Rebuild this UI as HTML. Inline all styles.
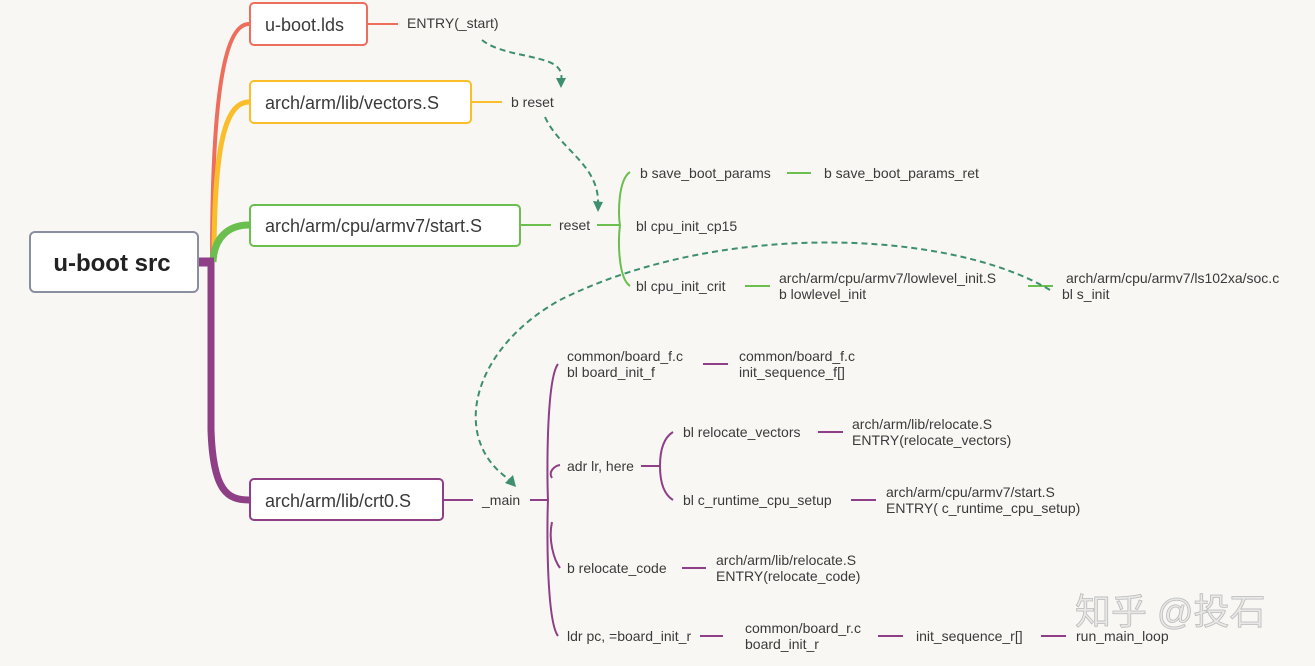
<!DOCTYPE html>
<html><head><meta charset="utf-8"><style>
html,body{margin:0;padding:0;background:#f8f7f4;}
svg{display:block;}
text{font-family:"Liberation Sans","Noto Sans CJK SC",sans-serif;fill:#3a3a3a;font-size:14px;}
.n{font-size:18px;}
</style></head><body>
<svg width="1315" height="666" viewBox="0 0 1315 666" xmlns="http://www.w3.org/2000/svg">
<rect width="1315" height="666" fill="#f8f7f4"/>
<!-- main branches -->
<path d="M212,262 C212,110 222,24 249,24" fill="none" stroke="#ee6e5e" stroke-width="4"/>
<path d="M214,262 C214,150 224,102 249,102" fill="none" stroke="#f9be2a" stroke-width="5"/>
<path d="M213,262 C214,238 228,225 249,225" fill="none" stroke="#6bbf4e" stroke-width="7"/>
<path d="M198,262 L214,262" stroke="#8e3f86" stroke-width="9"/>
<path d="M211,262 L211,430 C213,492 228,500 249,500" fill="none" stroke="#8e3f86" stroke-width="7"/>
<!-- nodes -->
<rect x="30" y="232" width="168" height="60" rx="5" fill="#fff" stroke="#8a8fa0" stroke-width="2"/>
<text x="112" y="271" text-anchor="middle" style="font-size:24px;font-weight:bold;fill:#222">u-boot src</text>
<rect x="250" y="3" width="117" height="42" rx="4" fill="#fff" stroke="#ee6e5e" stroke-width="2"/>
<text class="n" x="265" y="31">u-boot.lds</text>
<rect x="250" y="81" width="221" height="42" rx="4" fill="#fff" stroke="#f9be2a" stroke-width="2"/>
<text class="n" x="265" y="109">arch/arm/lib/vectors.S</text>
<rect x="250" y="205" width="270" height="41" rx="4" fill="#fff" stroke="#6bbf4e" stroke-width="2"/>
<text class="n" x="265" y="232">arch/arm/cpu/armv7/start.S</text>
<rect x="250" y="479" width="193" height="41" rx="4" fill="#fff" stroke="#8e3f86" stroke-width="2"/>
<text class="n" x="265" y="507">arch/arm/lib/crt0.S</text>
<!-- red -->
<line x1="367" y1="24" x2="398" y2="24" stroke="#ee6e5e" stroke-width="2"/>
<text x="407" y="28">ENTRY(_start)</text>
<!-- yellow -->
<line x1="471" y1="102" x2="502" y2="102" stroke="#f9be2a" stroke-width="2"/>
<text x="511" y="107">b reset</text>
<!-- green -->
<g stroke="#6bbf4e" stroke-width="2" fill="none">
<line x1="520" y1="225" x2="551" y2="225"/>
<line x1="597" y1="225" x2="620" y2="225"/>
<path d="M630,172 C618,180 618,215 620,225 C618,240 618,278 630,286"/>
<line x1="787" y1="173" x2="811" y2="173"/>
<line x1="745" y1="286" x2="770" y2="286"/>
<line x1="1028" y1="286" x2="1053" y2="286"/>
</g>
<text x="559" y="230">reset</text>
<text x="640" y="178">b save_boot_params</text>
<text x="824" y="178">b save_boot_params_ret</text>
<text x="636" y="231">bl cpu_init_cp15</text>
<text x="636" y="291">bl cpu_init_crit</text>
<text x="779" y="283">arch/arm/cpu/armv7/lowlevel_init.S</text>
<text x="779" y="299">b lowlevel_init</text>
<text x="1066" y="283">arch/arm/cpu/armv7/ls102xa/soc.c</text>
<text x="1062" y="299">bl s_init</text>
<!-- purple -->
<g stroke="#8e3f86" stroke-width="2" fill="none">
<line x1="443" y1="500" x2="473" y2="500"/>
<line x1="530" y1="500" x2="548" y2="500"/>
<path d="M558,364 C546,380 547,480 548,500 C547,520 546,620 558,636"/>
<path d="M552,478 C548,472 554,466 560,465" />
<path d="M552,522 C548,540 554,560 560,568" />
<line x1="703" y1="364" x2="728" y2="364"/>
<line x1="641" y1="466" x2="660" y2="466"/>
<path d="M673,432 C660,440 660,460 660,466 C660,472 660,492 673,500"/>
<line x1="818" y1="432" x2="843" y2="432"/>
<line x1="851" y1="500" x2="876" y2="500"/>
<line x1="682" y1="568" x2="706" y2="568"/>
<line x1="700" y1="636" x2="723" y2="636"/>
<line x1="878" y1="636" x2="903" y2="636"/>
<line x1="1041" y1="636" x2="1066" y2="636"/>
</g>
<text x="482" y="505">_main</text>
<text x="567" y="361">common/board_f.c</text>
<text x="567" y="377">bl board_init_f</text>
<text x="739" y="361">common/board_f.c</text>
<text x="739" y="377">init_sequence_f[]</text>
<text x="567" y="471">adr lr, here</text>
<text x="683" y="437">bl relocate_vectors</text>
<text x="852" y="429">arch/arm/lib/relocate.S</text>
<text x="852" y="445">ENTRY(relocate_vectors)</text>
<text x="683" y="505">bl c_runtime_cpu_setup</text>
<text x="886" y="497">arch/arm/cpu/armv7/start.S</text>
<text x="886" y="513">ENTRY( c_runtime_cpu_setup)</text>
<text x="567" y="573">b relocate_code</text>
<text x="716" y="565">arch/arm/lib/relocate.S</text>
<text x="716" y="581">ENTRY(relocate_code)</text>
<text x="567" y="641">ldr pc, =board_init_r</text>
<text x="745" y="633">common/board_r.c</text>
<text x="745" y="649">board_init_r</text>
<text x="916" y="641">init_sequence_r[]</text>
<text x="1076" y="641">run_main_loop</text>
<!-- dashed arrows -->
<g stroke="#3d8f6e" stroke-width="2" fill="none" stroke-dasharray="6,4">
<path d="M482,40 C500,55 540,55 555,65 C562,70 562,76 561,80"/>
<path d="M545,117 C560,150 600,165 598,205"/>
<path d="M1050,290 C950,230 720,220 560,300 C470,350 450,440 510,480"/>
</g>
<g fill="#3d8f6e">
<polygon points="556,78 566,78 561,88"/>
<polygon points="593,201 603,202 598,212"/>
<polygon points="505,483 513,475 516,487"/>
</g>
<!-- watermark -->
<text x="1075" y="624" style="font-size:36px;fill:#e6e6e6;fill-opacity:0.9;stroke:#bbb;stroke-width:0.8">知乎 @投石</text>
</svg>
</body></html>
